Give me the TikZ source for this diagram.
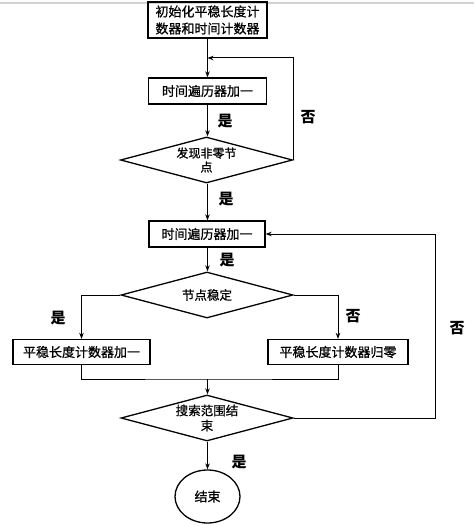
\documentclass[tikz,border=0pt]{standalone}
\usepackage{fontspec}
\setmainfont{Noto Sans CJK SC}
\newfontfamily\medcjk[FakeBold=0.8]{Noto Sans CJK SC}
\usetikzlibrary{shapes.geometric,arrows.meta}
\begin{document}
\begin{tikzpicture}[x=1pt,y=-1pt,
  every node/.style={font=\medcjk\fontsize{13}{17}\selectfont, inner sep=0pt},
  procbox/.style={draw, line width=1.3pt, rectangle, align=center},
  decision/.style={draw, line width=1.3pt, diamond, aspect=3.7, align=center, minimum width=172pt, minimum height=46pt},
  termnode/.style={draw, line width=1.3pt, ellipse, minimum width=65pt, minimum height=53pt},
  flow/.style={line width=1pt, -{Stealth[length=6pt,width=4.5pt]}},
  plain/.style={line width=1pt},
  lbl/.style={font=\bfseries\fontsize{15}{15}\selectfont}
]
\useasboundingbox (0,0) rectangle (474,526);
\draw[gray!35, line width=1.2pt] (0,3) -- (474,3);

\node[procbox, minimum width=119pt, minimum height=36pt] (b1) at (207.5,20) {初始化平稳长度计\\数器和时间计数器};
\node[procbox, minimum width=118pt, minimum height=26pt] (b2) at (207.5,91) {时间遍历器加一};
\node[decision, font=\medcjk\fontsize{12}{14}\selectfont] (d1) at (206.5,160) {发现非零节\\点};
\node[procbox, minimum width=116pt, minimum height=26pt] (b3) at (207,234) {时间遍历器加一};
\node[decision, font=\medcjk\fontsize{12.5}{14}\selectfont] (d2) at (207,295) {节点稳定};
\node[procbox, minimum width=137pt, minimum height=25pt] (b4) at (81.5,352) {平稳长度计数器加一};
\node[procbox, minimum width=140pt, minimum height=25pt] (b5) at (338,352) {平稳长度计数器归零};
\node[decision, font=\medcjk\fontsize{12.5}{15}\selectfont] (d3) at (207,418) {搜索范围结\\束};
\node[termnode] (e) at (207.5,496.5) {结束};

\coordinate (j1) at (207.5,58);
\coordinate (j2) at (207.5,379);

\draw[flow] (b1.south -| j1) -- (b2.north -| j1);
\draw[flow] (d1.east) |- (j1);
\draw[flow] (b2.south -| j1) -- (d1.north -| j1);
\draw[flow] (d1.south -| j1) -- (b3.north -| j1);
\draw[flow] (b3.south -| j1) -- (d2.north -| j1);
\draw[flow] (d2.west) -| (b4.north);
\draw[flow] (d2.east) -| (b5.north);
\draw[plain] (b4.south) |- (j2) -| (b5.south);
\draw[flow] (j2) -- (d3.north -| j2);
\draw[flow] (d3.east) -- (435,418) |- (b3.east);
\draw[flow] (d3.south -| j1) -- (e.north);

\node[lbl] (l1) at (225,121) {是};
\node[lbl] (l2) at (308,117) {否};
\node[lbl] (l3) at (226,199) {是};
\node[lbl] (l4) at (227,260) {是};
\node[lbl] (l5) at (58,318) {是};
\node[lbl] (l6) at (353,316) {否};
\node[lbl] (l7) at (457,328) {否};
\node[lbl] (l8) at (239,462) {是};
\end{tikzpicture}
\end{document}
